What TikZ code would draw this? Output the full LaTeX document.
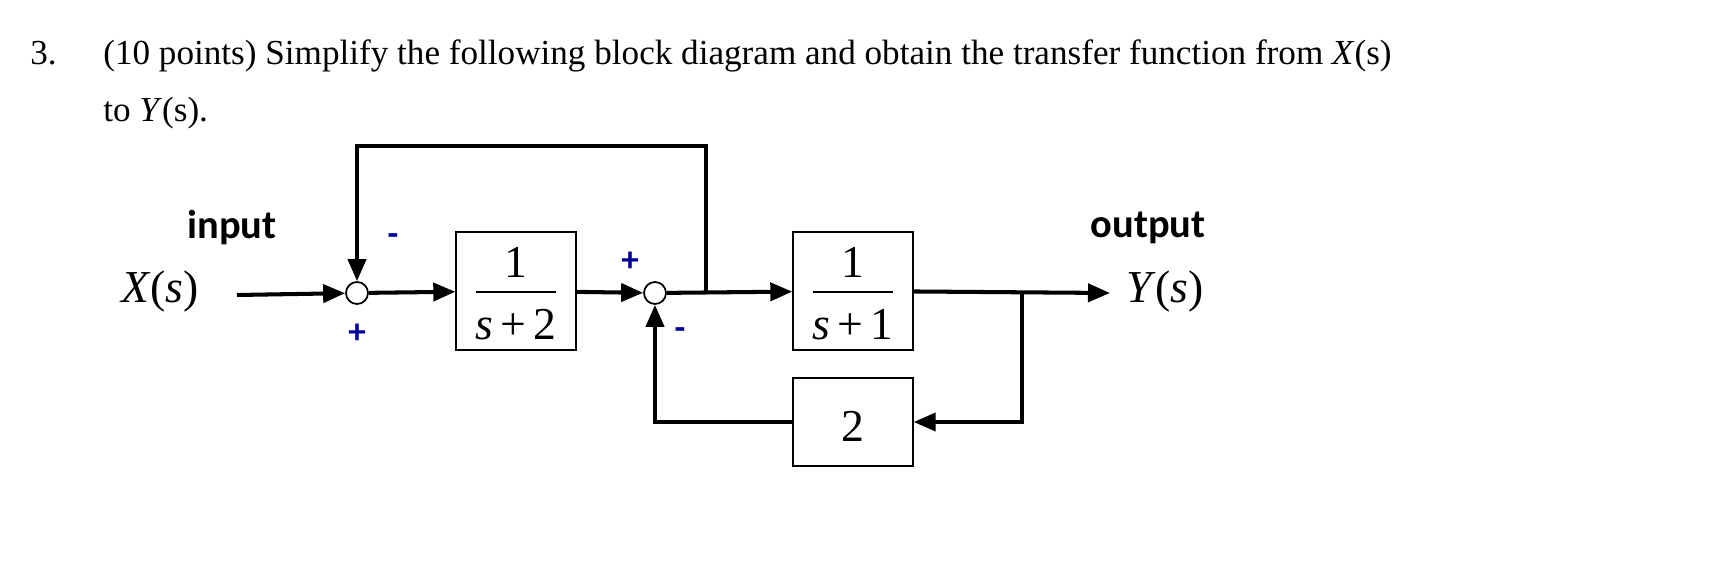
\documentclass[tikz,border=0pt]{standalone}
\usepackage{fontspec}
\setmainfont{Liberation Serif}
\newfontfamily\sansb{Carlito}
\usetikzlibrary{arrows.meta}
\begin{document}
\begin{tikzpicture}[x=0.02cm,y=-0.02cm,
  ln/.style={line width=2.3pt},
  ar/.style={ln,-{Triangle[length=0.44cm,width=0.36cm]}},
  blk/.style={draw,line width=0.8pt,minimum width=2.4cm,minimum height=2.36cm,inner sep=0pt},
  sum/.style={draw,circle,line width=1pt,minimum size=0.44cm,inner sep=0pt,fill=white},
  sg/.style={text=blue!60!black,font=\sansb\bfseries\fontsize{20}{20}\selectfont},
  lab/.style={font=\sansb\bfseries\fontsize{23}{23}\selectfont},
  tt/.style={font=\fontsize{20}{20}\selectfont,anchor=base west,inner sep=0pt},
  fr/.style={font=\fontsize{26}{26}\selectfont}]
\useasboundingbox (0,0) rectangle (1722,564);
\node[tt] (t1) at (30,65) {3.};
\node[tt] (t2) at (103,65) {(10 points) Simplify the following block diagram and obtain the transfer function from \textit{X}(s)};
\node[tt] (t3) at (103,122) {to \textit{Y}(s).};
\node[sum] (s1) at (357,293) {};
\node[sum] (s2) at (655,293) {};
\node[blk] (b1) at (516,291) {};
\node[blk] (b2) at (853,291) {};
\node[blk,minimum height=1.76cm] (b3) at (853,422) {};
\node[fr] (n1) at (516,262) {1};
\node[fr] (d1) at (516,325) {\textit{s}\,+\,2};
\node[fr] (n2) at (853,262) {1};
\node[fr] (d2) at (853,325) {\textit{s}\,+\,1};
\node[fr] (g) at (853,426) {2};
\draw[line width=0.8pt] (476,292) -- (556,292);
\draw[line width=0.8pt] (813,292) -- (893,292);
\node[lab] (in) at (232,228) {input};
\node[lab] (out) at (1148,228) {output};
\node[fr] (X) at (160,292) {\textit{X}(\textit{s})};
\node[fr] (Y) at (1165,292) {\textit{Y}(\textit{s})};
\node[sg] at (393,240) {-};
\node[sg] at (357,334) {+};
\node[sg] at (630,262) {+};
\node[sg] at (680,334) {-};
\coordinate (xin) at (237,295);
\coordinate (j1) at (706,293);
\coordinate (j2) at (1022,293);
\coordinate (yout) at (1110,293);
\draw[ar] (xin) -- (s1);
\draw[ar] (s1) -- (b1);
\draw[ar] (b1) -- (s2);
\draw[ar] (s2) -- (b2);
\draw[ar] (b2) -- (yout);
\draw[ar] (j1) -- (706,146) -- (357,146) -- (s1);
\draw[ar] (j2) |- (b3.east);
\draw[ar] (b3.west) -| (s2);
\end{tikzpicture}
\end{document}
